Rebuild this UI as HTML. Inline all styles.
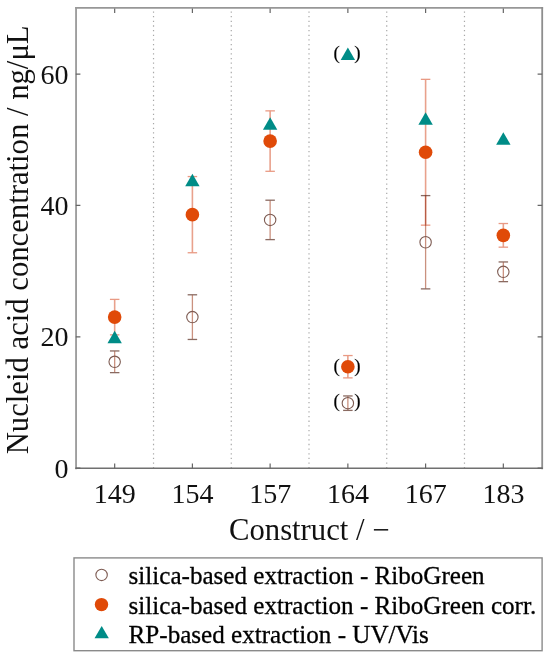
<!DOCTYPE html><html><head><meta charset="utf-8"><style>html,body{margin:0;padding:0;background:#fff;width:550px;height:658px;overflow:hidden}svg{display:block}</style></head><body><svg width="550" height="658" viewBox="0 0 550 658">
<rect width="550" height="658" fill="#fff"/>
<line x1="153.53" y1="11.40" x2="153.53" y2="468.20" stroke="#a8a8a8" stroke-width="1.2" stroke-dasharray="1.3 3.35"/>
<line x1="231.27" y1="11.40" x2="231.27" y2="468.20" stroke="#a8a8a8" stroke-width="1.2" stroke-dasharray="1.3 3.35"/>
<line x1="309.00" y1="11.40" x2="309.00" y2="468.20" stroke="#a8a8a8" stroke-width="1.2" stroke-dasharray="1.3 3.35"/>
<line x1="386.73" y1="11.40" x2="386.73" y2="468.20" stroke="#a8a8a8" stroke-width="1.2" stroke-dasharray="1.3 3.35"/>
<line x1="464.47" y1="11.40" x2="464.47" y2="468.20" stroke="#a8a8a8" stroke-width="1.2" stroke-dasharray="1.3 3.35"/>
<g fill="none" stroke-width="1.3" style="mix-blend-mode:multiply"><line x1="114.67" y1="299.39" x2="114.67" y2="334.86" stroke="#E9A18C" stroke-width="1.6"/><line x1="109.92" y1="299.39" x2="119.42" y2="299.39" stroke="#E99A84"/><line x1="109.92" y1="334.86" x2="119.42" y2="334.86" stroke="#E99A84"/></g>
<g fill="none" stroke-width="1.3" style="mix-blend-mode:multiply"><line x1="192.40" y1="176.56" x2="192.40" y2="252.75" stroke="#E9A18C" stroke-width="1.6"/><line x1="187.65" y1="176.56" x2="197.15" y2="176.56" stroke="#E99A84"/><line x1="187.65" y1="252.75" x2="197.15" y2="252.75" stroke="#E99A84"/></g>
<g fill="none" stroke-width="1.3" style="mix-blend-mode:multiply"><line x1="270.13" y1="110.87" x2="270.13" y2="171.30" stroke="#E9A18C" stroke-width="1.6"/><line x1="265.38" y1="110.87" x2="274.88" y2="110.87" stroke="#E99A84"/><line x1="265.38" y1="171.30" x2="274.88" y2="171.30" stroke="#E99A84"/></g>
<g fill="none" stroke-width="1.3" style="mix-blend-mode:multiply"><line x1="347.87" y1="355.55" x2="347.87" y2="377.88" stroke="#E9A18C" stroke-width="1.6"/><line x1="343.12" y1="355.55" x2="352.62" y2="355.55" stroke="#E99A84"/><line x1="343.12" y1="377.88" x2="352.62" y2="377.88" stroke="#E99A84"/></g>
<g fill="none" stroke-width="1.3" style="mix-blend-mode:multiply"><line x1="425.60" y1="79.34" x2="425.60" y2="225.16" stroke="#E9A18C" stroke-width="1.6"/><line x1="420.85" y1="79.34" x2="430.35" y2="79.34" stroke="#E99A84"/><line x1="420.85" y1="225.16" x2="430.35" y2="225.16" stroke="#E99A84"/></g>
<g fill="none" stroke-width="1.3" style="mix-blend-mode:multiply"><line x1="503.33" y1="223.52" x2="503.33" y2="247.17" stroke="#E9A18C" stroke-width="1.6"/><line x1="498.58" y1="223.52" x2="508.08" y2="223.52" stroke="#E99A84"/><line x1="498.58" y1="247.17" x2="508.08" y2="247.17" stroke="#E99A84"/></g>
<g fill="none" stroke-width="1.3" style="mix-blend-mode:multiply"><line x1="114.67" y1="350.95" x2="114.67" y2="372.63" stroke="#CA917F" stroke-width="1.3"/><line x1="109.92" y1="350.95" x2="119.42" y2="350.95" stroke="#8a6a61"/><line x1="109.92" y1="372.63" x2="119.42" y2="372.63" stroke="#8a6a61"/></g>
<g fill="none" stroke-width="1.3" style="mix-blend-mode:multiply"><line x1="192.40" y1="294.79" x2="192.40" y2="339.46" stroke="#CA917F" stroke-width="1.3"/><line x1="187.65" y1="294.79" x2="197.15" y2="294.79" stroke="#8a6a61"/><line x1="187.65" y1="339.46" x2="197.15" y2="339.46" stroke="#8a6a61"/></g>
<g fill="none" stroke-width="1.3" style="mix-blend-mode:multiply"><line x1="270.13" y1="200.20" x2="270.13" y2="239.61" stroke="#CA917F" stroke-width="1.3"/><line x1="265.38" y1="200.20" x2="274.88" y2="200.20" stroke="#8a6a61"/><line x1="265.38" y1="239.61" x2="274.88" y2="239.61" stroke="#8a6a61"/></g>
<g fill="none" stroke-width="1.3" style="mix-blend-mode:multiply"><line x1="347.87" y1="395.95" x2="347.87" y2="410.40" stroke="#CA917F" stroke-width="1.3"/><line x1="343.12" y1="395.95" x2="352.62" y2="395.95" stroke="#8a6a61"/><line x1="343.12" y1="410.40" x2="352.62" y2="410.40" stroke="#8a6a61"/></g>
<g fill="none" stroke-width="1.3" style="mix-blend-mode:multiply"><line x1="425.60" y1="195.60" x2="425.60" y2="288.88" stroke="#CA917F" stroke-width="1.3"/><line x1="420.85" y1="195.60" x2="430.35" y2="195.60" stroke="#8a6a61"/><line x1="420.85" y1="288.88" x2="430.35" y2="288.88" stroke="#8a6a61"/></g>
<g fill="none" stroke-width="1.3" style="mix-blend-mode:multiply"><line x1="503.33" y1="261.95" x2="503.33" y2="281.65" stroke="#CA917F" stroke-width="1.3"/><line x1="498.58" y1="261.95" x2="508.08" y2="261.95" stroke="#8a6a61"/><line x1="498.58" y1="281.65" x2="508.08" y2="281.65" stroke="#8a6a61"/></g>
<circle cx="114.67" cy="361.79" r="5.7" fill="none" stroke="#7d5b52" stroke-width="1.1"/>
<circle cx="192.40" cy="317.12" r="5.7" fill="none" stroke="#7d5b52" stroke-width="1.1"/>
<circle cx="270.13" cy="219.91" r="5.7" fill="none" stroke="#7d5b52" stroke-width="1.1"/>
<circle cx="347.87" cy="403.17" r="5.7" fill="none" stroke="#7d5b52" stroke-width="1.1"/>
<circle cx="425.60" cy="242.24" r="5.7" fill="none" stroke="#7d5b52" stroke-width="1.1"/>
<circle cx="503.33" cy="271.80" r="5.7" fill="none" stroke="#7d5b52" stroke-width="1.1"/>
<circle cx="114.67" cy="317.12" r="6.8" fill="#E04A08"/>
<circle cx="192.40" cy="214.65" r="6.8" fill="#E04A08"/>
<circle cx="270.13" cy="141.09" r="6.8" fill="#E04A08"/>
<circle cx="347.87" cy="366.72" r="6.8" fill="#E04A08"/>
<circle cx="425.60" cy="152.25" r="6.8" fill="#E04A08"/>
<circle cx="503.33" cy="235.34" r="6.8" fill="#E04A08"/>
<polygon points="107.47,343.25 121.87,343.25 114.67,330.75" fill="#008C87"/>
<polygon points="185.20,186.35 199.60,186.35 192.40,173.85" fill="#008C87"/>
<polygon points="262.93,129.85 277.33,129.85 270.13,117.35" fill="#008C87"/>
<polygon points="340.67,59.95 355.07,59.95 347.87,47.45" fill="#008C87"/>
<polygon points="418.40,124.85 432.80,124.85 425.60,112.35" fill="#008C87"/>
<polygon points="496.13,144.65 510.53,144.65 503.33,132.15" fill="#008C87"/>
<text x="333.47" y="59.0" font-family="Liberation Serif, Times New Roman, serif" font-size="19" fill="#000" stroke="#000" stroke-width="0.15">(</text>
<text x="354.21" y="59.0" font-family="Liberation Serif, Times New Roman, serif" font-size="19" fill="#000" stroke="#000" stroke-width="0.15">)</text>
<text x="333.47" y="371.5" font-family="Liberation Serif, Times New Roman, serif" font-size="19" fill="#000" stroke="#000" stroke-width="0.15">(</text>
<text x="354.21" y="371.5" font-family="Liberation Serif, Times New Roman, serif" font-size="19" fill="#000" stroke="#000" stroke-width="0.15">)</text>
<text x="333.47" y="407.09999999999997" font-family="Liberation Serif, Times New Roman, serif" font-size="19" fill="#000" stroke="#000" stroke-width="0.15">(</text>
<text x="354.21" y="407.09999999999997" font-family="Liberation Serif, Times New Roman, serif" font-size="19" fill="#000" stroke="#000" stroke-width="0.15">)</text>
<g fill="none" stroke-linecap="square"><line x1="76.05" y1="7.95" x2="542.2" y2="7.95" stroke="#979797" stroke-width="1.8"/><line x1="76.05" y1="7.95" x2="76.05" y2="468.35" stroke="#999" stroke-width="1.8"/><line x1="542.2" y1="7.95" x2="542.2" y2="468.35" stroke="#8e8e8e" stroke-width="1.8"/><line x1="76.05" y1="468.35" x2="542.2" y2="468.35" stroke="#707070" stroke-width="1.5"/></g>
<path d="M114.67 468.2V463.59999999999997M114.67 8.4V13.0M192.40 468.2V463.59999999999997M192.40 8.4V13.0M270.13 468.2V463.59999999999997M270.13 8.4V13.0M347.87 468.2V463.59999999999997M347.87 8.4V13.0M425.60 468.2V463.59999999999997M425.60 8.4V13.0M503.33 468.2V463.59999999999997M503.33 8.4V13.0M75.8 468.20H80.39999999999999M542.2 468.20H537.6M75.8 336.83H80.39999999999999M542.2 336.83H537.6M75.8 205.46H80.39999999999999M542.2 205.46H537.6M75.8 74.09H80.39999999999999M542.2 74.09H537.6" stroke="#666" stroke-width="1.2" fill="none"/>
<text x="68.4" y="477.80" font-family="Liberation Serif, Times New Roman, serif" font-size="28" fill="#111" text-anchor="end">0</text>
<text x="68.4" y="346.43" font-family="Liberation Serif, Times New Roman, serif" font-size="28" fill="#111" text-anchor="end">20</text>
<text x="68.4" y="215.06" font-family="Liberation Serif, Times New Roman, serif" font-size="28" fill="#111" text-anchor="end">40</text>
<text x="68.4" y="83.69" font-family="Liberation Serif, Times New Roman, serif" font-size="28" fill="#111" text-anchor="end">60</text>
<text x="114.87" y="502.7" font-family="Liberation Serif, Times New Roman, serif" font-size="28" fill="#111" text-anchor="middle">149</text>
<text x="192.60" y="502.7" font-family="Liberation Serif, Times New Roman, serif" font-size="28" fill="#111" text-anchor="middle">154</text>
<text x="270.33" y="502.7" font-family="Liberation Serif, Times New Roman, serif" font-size="28" fill="#111" text-anchor="middle">157</text>
<text x="348.07" y="502.7" font-family="Liberation Serif, Times New Roman, serif" font-size="28" fill="#111" text-anchor="middle">164</text>
<text x="425.80" y="502.7" font-family="Liberation Serif, Times New Roman, serif" font-size="28" fill="#111" text-anchor="middle">167</text>
<text x="503.53" y="502.7" font-family="Liberation Serif, Times New Roman, serif" font-size="28" fill="#111" text-anchor="middle">183</text>
<text x="229.0" y="539.5" font-family="Liberation Serif, Times New Roman, serif" font-size="30.7" fill="#111">Construct / −</text>
<g transform="translate(27.6 454.3) rotate(-90)"><text x="0" y="0" font-family="Liberation Serif, Times New Roman, serif" font-size="30.7" fill="#111">Nucleid acid concentration / ng/μL</text></g>
<rect x="74.0" y="557.9" width="468.1" height="92.8" fill="#fff" stroke="#8a8a8a" stroke-width="1.4"/>
<circle cx="101.6" cy="574.9" r="5.7" fill="none" stroke="#7d5b52" stroke-width="1.1"/>
<circle cx="101.5" cy="604.6" r="6.7" fill="#E04A08"/>
<polygon points="94.55,638.35 108.85,638.35 101.70,626.05" fill="#008C87"/>
<text x="128.6" y="583.8" font-family="Liberation Serif, Times New Roman, serif" font-size="25.1" fill="#000" stroke="#000" stroke-width="0.3">silica-based extraction - RiboGreen</text>
<text x="128.6" y="613.6" font-family="Liberation Serif, Times New Roman, serif" font-size="25.1" fill="#000" stroke="#000" stroke-width="0.3">silica-based extraction - RiboGreen corr.</text>
<text x="128.6" y="643.2" font-family="Liberation Serif, Times New Roman, serif" font-size="25.1" fill="#000" stroke="#000" stroke-width="0.3">RP-based extraction - UV/Vis</text>
</svg></body></html>
